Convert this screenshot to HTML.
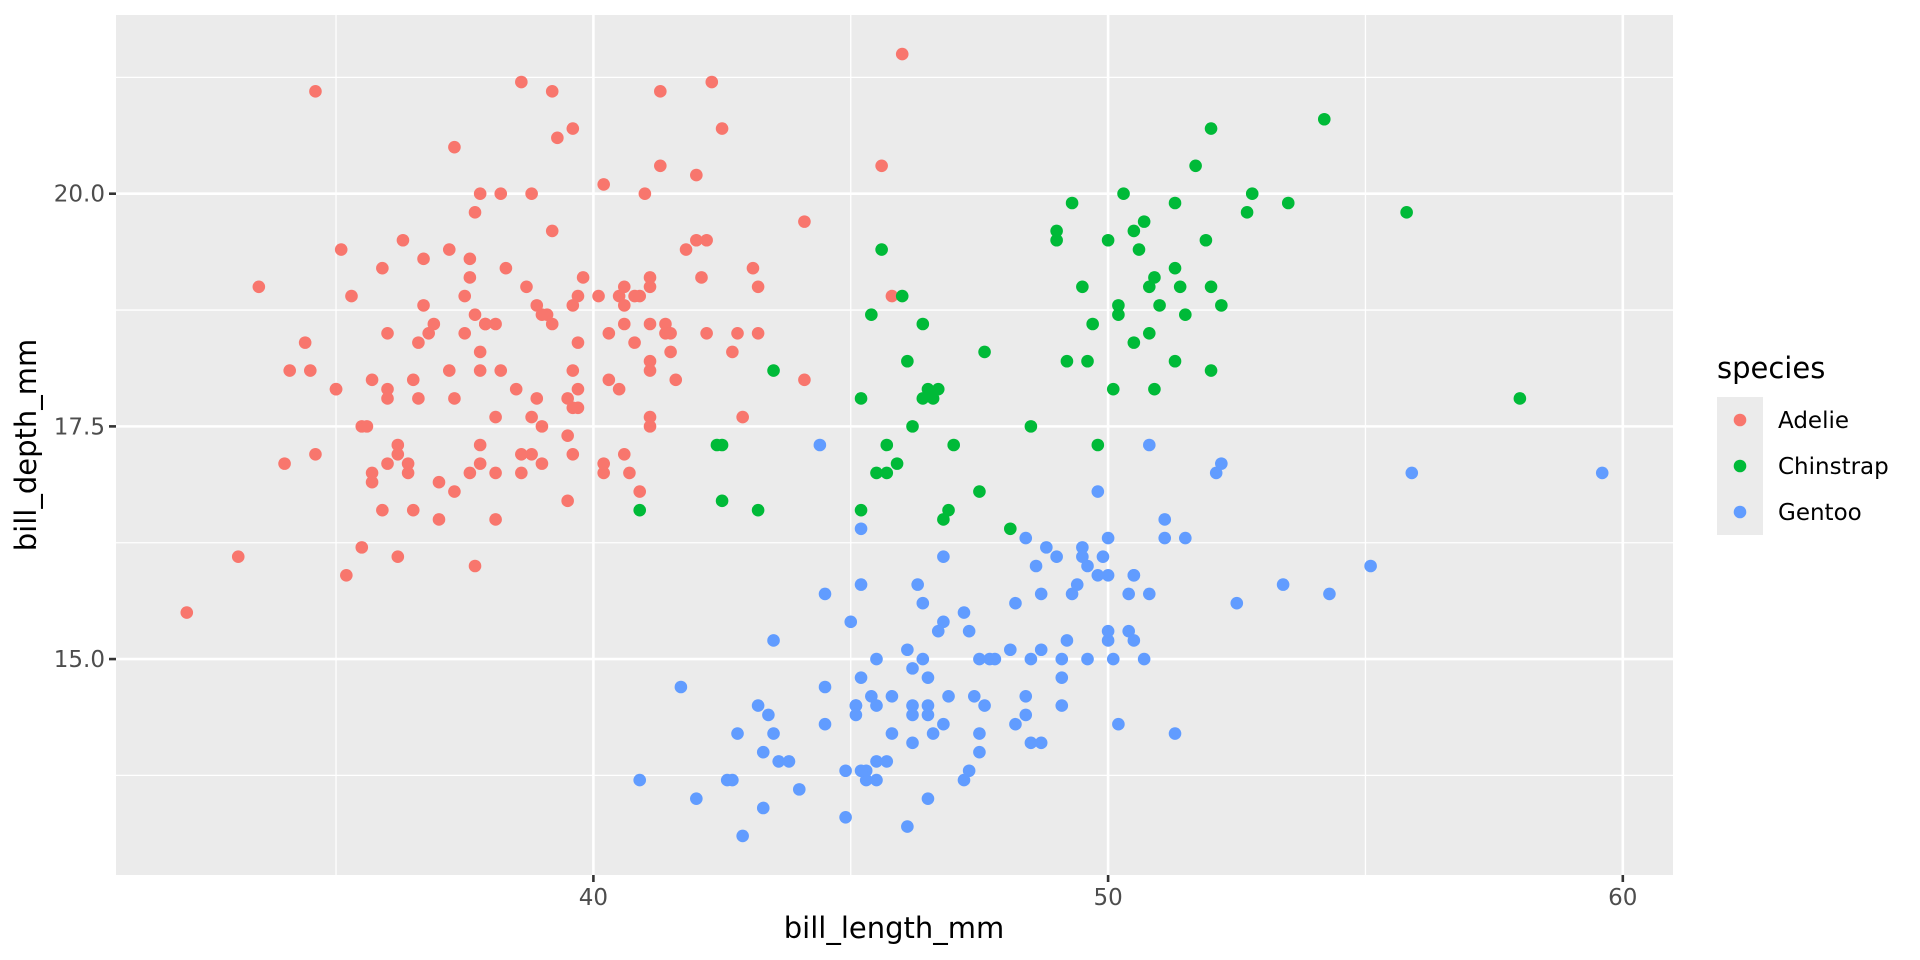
<!DOCTYPE html>
<html><head><meta charset="utf-8"><style>
body{margin:0;background:#fff;}
svg{display:block;font-family:"DejaVu Sans","Liberation Sans",sans-serif;}
</style></head><body>
<svg id="chart" width="1920" height="960" viewBox="0 0 1920 960" xmlns="http://www.w3.org/2000/svg">
<rect x="116" y="15" width="1557" height="860" fill="#ebebeb"/>
<g id="grid"></g>
<g id="axes"></g>
<g id="points"></g>
<text x="894" y="938" font-size="29" text-anchor="middle" fill="#000">bill_length_mm</text>
<text transform="translate(36,445) rotate(-90)" font-size="29" text-anchor="middle" fill="#000">bill_depth_mm</text>
<g>
<text x="1717" y="378" font-size="29" fill="#000">species</text>
<rect x="1717" y="397" width="46" height="138" fill="#ebebeb"/>
<g id="legend-entries"></g>
</g>
</svg>
<script>
const species = ["Adelie","Chinstrap","Gentoo"];
const colors = ["#F8766D","#00BA38","#619CFF"];
const xTicks = [40,50,60];
const xTickLabels = ["40","50","60"];
const yTicks = [15,17.5,20];
const yTickLabels = ["15.0","17.5","20.0"];
const xMinor = [35,45,55];
const yMinor = [13.75,16.25,18.75,21.25];
const adelieLen = [39.1,39.5,40.3,36.7,39.3,38.9,39.2,34.1,42.0,37.8,37.8,41.1,38.6,34.6,36.6,38.7,42.5,34.4,46.0,37.8,37.7,35.9,38.2,38.8,35.3,40.6,40.5,37.9,40.5,39.5,37.2,39.5,40.9,36.4,39.2,38.8,42.2,37.6,39.8,36.5,40.8,36.0,44.1,37.0,39.6,41.1,37.5,36.0,42.3,39.6,40.1,35.0,42.0,34.5,41.4,39.0,40.6,36.5,37.6,35.7,41.3,37.6,41.1,36.4,41.6,35.5,41.1,35.9,41.8,33.5,39.7,39.6,45.8,35.5,42.8,40.9,37.2,36.2,42.1,34.6,42.9,36.7,35.1,37.3,41.3,36.3,36.9,38.3,38.9,35.7,41.1,34.0,39.6,36.2,40.8,38.1,40.3,33.1,43.2,35.0,41.0,37.7,37.8,37.9,39.7,38.6,38.2,38.1,43.2,38.1,45.6,39.7,42.2,39.6,42.7,38.6,37.3,35.7,41.1,36.2,37.7,40.2,41.4,35.2,40.6,38.8,41.5,39.0,44.1,38.5,43.1,36.8,37.5,38.1,41.1,35.6,40.2,37.0,39.7,40.2,40.6,32.1,40.7,37.3,39.0,39.2,36.6,36.0,37.8,36.0,41.5];
const adelieDep = [18.7,17.4,18.0,19.3,20.6,17.8,19.6,18.1,20.2,17.1,17.3,17.6,21.2,21.1,17.8,19.0,20.7,18.4,21.5,18.3,18.7,19.2,18.1,17.2,18.9,18.6,17.9,18.6,18.9,16.7,18.1,17.8,18.9,17.0,21.1,20.0,18.5,19.3,19.1,18.0,18.4,18.5,19.7,16.9,18.8,19.0,18.9,17.9,21.2,17.7,18.9,17.9,19.5,18.1,18.6,17.5,18.8,16.6,19.1,16.9,21.1,17.0,18.2,17.1,18.0,16.2,19.1,16.6,19.4,19.0,18.4,17.2,18.9,17.5,18.5,16.8,19.4,16.1,19.1,17.2,17.6,18.8,19.4,17.8,20.3,19.5,18.6,19.2,18.8,18.0,18.1,17.1,18.1,17.3,18.9,18.6,18.5,16.1,18.5,17.9,20.0,16.0,20.0,18.6,18.9,17.2,20.0,17.0,19.0,16.5,20.3,17.7,19.5,20.7,18.3,17.0,20.5,17.0,18.6,17.2,19.8,17.0,18.5,15.9,19.0,17.6,18.3,17.1,18.0,17.9,19.2,18.5,18.5,17.6,17.5,17.5,20.1,16.5,17.9,17.1,17.2,15.5,17.0,16.8,18.7,18.6,18.4,17.8,18.1,17.1,18.5];
const chinLen = [46.5,50.0,51.3,45.4,52.7,45.2,46.1,51.3,46.0,51.3,46.6,51.7,47.0,52.0,45.9,50.5,50.3,58.0,46.4,49.2,42.4,48.5,43.2,50.6,46.7,52.0,50.5,49.5,46.4,52.8,40.9,54.2,42.5,51.0,49.7,47.5,47.6,52.0,46.9,53.5,49.0,46.2,50.9,45.5,50.9,50.8,50.1,49.0,51.5,49.8,48.1,51.4,45.7,50.7,42.5,52.2,45.2,49.3,50.2,45.6,51.9,46.8,45.7,55.8,43.5,49.6,50.8,50.2];
const chinDep = [17.9,19.5,19.2,18.7,19.8,17.8,18.2,18.2,18.9,19.9,17.8,20.3,17.3,18.1,17.1,19.6,20.0,17.8,18.6,18.2,17.3,17.5,16.6,19.4,17.9,19.0,18.4,19.0,17.8,20.0,16.6,20.8,16.7,18.8,18.6,16.8,18.3,20.7,16.6,19.9,19.5,17.5,19.1,17.0,17.9,18.5,17.9,19.6,18.7,17.3,16.4,19.0,17.3,19.7,17.3,18.8,16.6,19.9,18.8,19.4,19.5,16.5,17.0,19.8,18.1,18.2,19.0,18.7];
const gentooLen = [46.1,50.0,48.7,50.0,47.6,46.5,45.4,46.7,43.3,46.8,40.9,49.0,45.5,48.4,45.8,49.3,42.0,49.2,46.2,48.7,50.2,45.1,46.5,46.3,42.9,46.1,44.5,47.8,48.2,50.0,47.3,42.8,45.1,59.6,49.1,48.4,42.6,44.4,44.0,48.7,42.7,49.6,45.3,49.6,50.5,43.6,45.5,50.5,44.9,45.2,46.6,48.5,45.1,50.1,46.5,45.0,43.8,45.5,43.2,50.4,45.3,46.2,45.7,54.3,45.8,49.8,46.2,49.5,43.5,50.7,47.7,46.4,48.2,46.5,46.4,48.6,47.5,51.1,45.2,45.2,49.1,52.5,47.4,50.0,44.9,50.8,43.4,51.3,47.5,52.1,47.5,52.2,45.5,49.5,44.5,50.8,49.4,46.9,48.4,51.1,48.5,55.9,47.2,49.1,47.3,46.8,41.7,53.4,43.3,48.1,50.5,49.8,43.5,51.5,46.2,55.1,44.5,48.8,47.2,46.8,50.4,45.2,49.9];
const gentooDep = [13.2,16.3,14.1,15.2,14.5,13.5,14.6,15.3,13.4,15.4,13.7,16.1,13.7,14.6,14.6,15.7,13.5,15.2,14.5,15.1,14.3,14.5,14.5,15.8,13.1,15.1,14.3,15.0,14.3,15.3,15.3,14.2,14.5,17.0,14.8,16.3,13.7,17.3,13.6,15.7,13.7,16.0,13.7,15.0,15.9,13.9,13.9,15.9,13.3,15.8,14.2,14.1,14.4,15.0,14.4,15.4,13.9,15.0,14.5,15.3,13.8,14.9,13.9,15.7,14.2,16.8,14.4,16.2,14.2,15.0,15.0,15.6,15.6,14.8,15.0,16.0,14.2,16.3,13.8,16.4,14.5,15.6,14.6,15.9,13.8,17.3,14.4,14.2,14.0,17.0,15.0,17.1,14.5,16.1,14.7,15.7,15.8,14.6,14.4,16.5,15.0,17.0,15.5,15.0,13.8,16.1,14.7,15.8,14.0,15.1,15.2,15.9,15.2,16.3,14.1,16.0,15.7,16.2,13.7,14.3,15.7,14.8,16.1];

const NS="http://www.w3.org/2000/svg";
const PL=116, PR=1673, PT=15, PB=875;
const xMin=30.725, xMax=60.975, yMin=12.68, yMax=21.92;
function xs(v){return PL+(v-xMin)/(xMax-xMin)*(PR-PL);}
function ys(v){return PB-(v-yMin)/(yMax-yMin)*(PB-PT);}
function mk(tag,attrs,parent){const e=document.createElementNS(NS,tag);for(const k in attrs)e.setAttribute(k,attrs[k]);parent.appendChild(e);return e;}
const grid=document.getElementById('grid'), axes=document.getElementById('axes'), pts=document.getElementById('points');
xMinor.forEach(v=>{const l=mk('line',{x1:xs(v),x2:xs(v),y1:PT,y2:PB,stroke:'#fff','stroke-width':1.3},grid);

});
yMinor.forEach(v=>{const l=mk('line',{x1:PL,x2:PR,y1:ys(v),y2:ys(v),stroke:'#fff','stroke-width':1.3},grid);

});
xTicks.forEach((v,i)=>{const l=mk('line',{x1:xs(v),x2:xs(v),y1:PT,y2:PB,stroke:'#fff','stroke-width':2.6},grid);


const t=mk('line',{x1:xs(v),x2:xs(v),y1:PB,y2:PB+7,stroke:'#333','stroke-width':2.6},axes);


const tx=mk('text',{x:xs(v),y:PB+30,'font-size':23,'text-anchor':'middle',fill:'#4d4d4d'},axes);tx.textContent=xTickLabels[i];

});
yTicks.forEach((v,i)=>{const l=mk('line',{x1:PL,x2:PR,y1:ys(v),y2:ys(v),stroke:'#fff','stroke-width':2.6},grid);


const t=mk('line',{x1:PL-7,x2:PL,y1:ys(v),y2:ys(v),stroke:'#333','stroke-width':2.6},axes);


const tx=mk('text',{x:PL-11,y:ys(v)+8,'font-size':23,'text-anchor':'end',fill:'#4d4d4d'},axes);tx.textContent=yTickLabels[i];

});
const series=[[adelieLen,adelieDep],[chinLen,chinDep],[gentooLen,gentooDep]];
series.forEach((s,si)=>{s[0].forEach((x,i)=>{const c=mk('circle',{cx:xs(x),cy:ys(s[1][i]),r:6.3,fill:colors[si]},pts);

});});
const le=document.getElementById('legend-entries');
species.forEach((sp,i)=>{const y=420+i*46;
const c=mk('circle',{cx:1740,cy:y,r:6.3,fill:colors[i]},le);


const t=mk('text',{x:1778,y:y+8,'font-size':23,fill:'#000'},le);t.textContent=sp;

});
</script>
</body></html>
